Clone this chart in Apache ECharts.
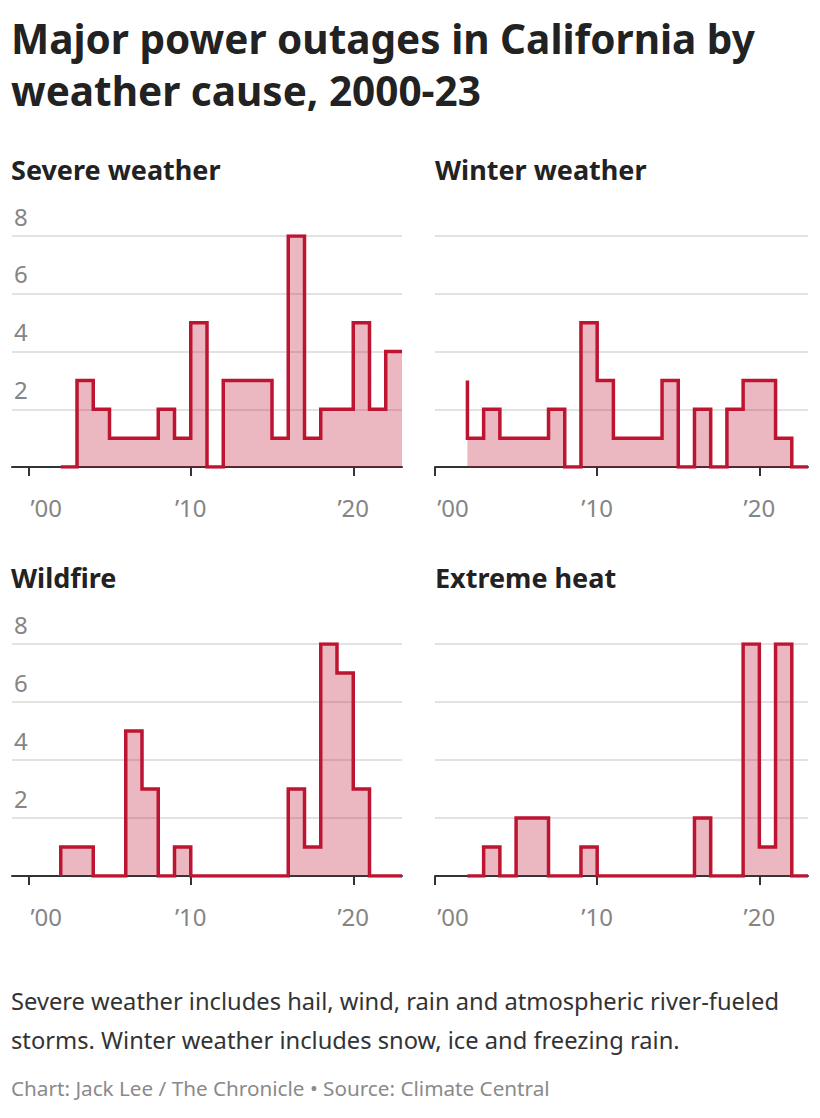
<!DOCTYPE html>
<html>
<head>
<meta charset="utf-8">
<script src="https://cdn.jsdelivr.net/npm/echarts@6/dist/echarts.min.js"></script>
<style>
  html, body { margin: 0; padding: 0; background: #ffffff; }
  #chart { width: 820px; height: 1118px; }
</style>
</head>
<body>
<div id="chart"></div>
<script>
// ---- Data ----
const years = [2002, 2003, 2004, 2005, 2006, 2007, 2008, 2009, 2010, 2011, 2012,
               2013, 2014, 2015, 2016, 2017, 2018, 2019, 2020, 2021, 2022, 2023];
const severeWeather = [0, 0, 3, 2, 1, 1, 1, 2, 1, 5, 0, 3, 3, 3, 1, 8, 1, 2, 2, 5, 2, 4];
const winterWeather = [3, 1, 2, 1, 1, 1, 2, 0, 5, 3, 1, 1, 1, 3, 0, 2, 0, 2, 3, 3, 1, 0];
const wildfire      = [0, 1, 1, 0, 0, 5, 3, 0, 1, 0, 0, 0, 0, 0, 0, 3, 1, 8, 7, 3, 0, 0];
const extremeHeat   = [0, 0, 1, 0, 2, 2, 0, 0, 1, 0, 0, 0, 0, 0, 0, 2, 0, 0, 8, 1, 8, 0];
const panelTitles = ['Severe weather', 'Winter weather', 'Wildfire', 'Extreme heat'];
const xTickYears = [2000, 2010, 2020];
const xTickLabels = ['’00', '’10', '’20'];
const yTickValues = [0, 2, 4, 6, 8];

const seriesList = [severeWeather, winterWeather, wildfire, extremeHeat];

// ---- Layout ----
const FONT = '"Noto Sans", "Open Sans", sans-serif';
const RED = '#bd1531';
const grids = [
  { left: 12,  top: 236, width: 390, height: 231, xmin: 1999 },
  { left: 435, top: 236, width: 373, height: 231, xmin: 2000 },
  { left: 12,  top: 644, width: 390, height: 232, xmin: 1999 },
  { left: 435, top: 644, width: 373, height: 232, xmin: 2000 }
];

const chart = echarts.init(document.getElementById('chart'), null, { renderer: 'svg' });

const titles = [
  {
    text: 'Major power outages in California by\nweather cause, 2000-23',
    left: 11, top: 12, padding: 0,
    textStyle: { fontFamily: FONT, fontWeight: 'bold', fontSize: 40.5, lineHeight: 52, color: '#222222' }
  },
  {
    text: 'Severe weather includes hail, wind, rain and atmospheric river-fueled\nstorms. Winter weather includes snow, ice and freezing rain.',
    left: 11, top: 981, padding: 0,
    textStyle: { fontFamily: FONT, fontWeight: 'normal', fontSize: 23.7, lineHeight: 39, color: '#333333' }
  },
  {
    text: 'Chart: Jack Lee / The Chronicle • Source: Climate Central',
    left: 11, top: 1077, padding: 0,
    textStyle: { fontFamily: FONT, fontWeight: 'normal', fontSize: 20.7, color: '#8a8a8a' }
  }
];
grids.forEach((g, i) => {
  titles.push({
    text: panelTitles[i],
    left: g.left === 12 ? 11 : 435,
    top: g.top - 80, padding: 0,
    textStyle: { fontFamily: FONT, fontWeight: 'bold', fontSize: 27, color: '#222222' }
  });
});

const option = {
  animation: false,
  backgroundColor: '#ffffff',
  title: titles,
  grid: grids.map(g => ({ left: g.left, top: g.top, width: g.width, height: g.height, containLabel: false })),
  xAxis: grids.map((g, i) => ({
    type: 'value',
    gridIndex: i,
    min: g.xmin,
    max: 2023,
    axisLine: { show: true, onZero: false, lineStyle: { color: '#333333', width: 2 } },
    axisTick: { show: true, customValues: xTickYears, length: 9, lineStyle: { color: '#333333', width: 2 } },
    axisLabel: {
      show: true,
      customValues: xTickYears,
      margin: 28,
      color: '#858585',
      fontFamily: FONT,
      fontSize: 24,
      formatter: function (v) {
        const idx = xTickYears.indexOf(v);
        const label = idx >= 0 ? xTickLabels[idx] : '';
        return idx === 0 ? '{first|' + label + '}' : label;
      },
      rich: {
        first: { padding: [0, 0, 0, 36], color: '#858585', fontFamily: FONT, fontSize: 24 }
      }
    },
    splitLine: { show: false }
  })),
  yAxis: grids.map((g, i) => ({
    type: 'value',
    gridIndex: i,
    min: 0,
    max: 8,
    interval: 2,
    axisLine: { show: false },
    axisTick: { show: false },
    axisLabel: {
      show: i === 0 || i === 2,
      inside: true,
      margin: 2,
      verticalAlign: 'bottom',
      padding: [0, 0, 8, 0],
      color: '#858585',
      fontFamily: FONT,
      fontSize: 24,
      showMinLabel: false,
      formatter: function (v) { return yTickValues.indexOf(v) > 0 ? String(v) : ''; }
    },
    splitLine: { show: true, lineStyle: { color: '#e2e2e2', width: 2 } }
  })),
  series: seriesList.map((vals, i) => ({
    type: 'line',
    xAxisIndex: i,
    yAxisIndex: i,
    step: 'start',
    showSymbol: false,
    symbol: 'none',
    data: years.map((y, k) => [y, vals[k]]),
    lineStyle: { color: RED, width: 3.5, join: 'miter', cap: 'butt' },
    areaStyle: { color: RED, opacity: 0.3 },
    z: 3
  }))
};

chart.setOption(option);
</script>
</body>
</html>
